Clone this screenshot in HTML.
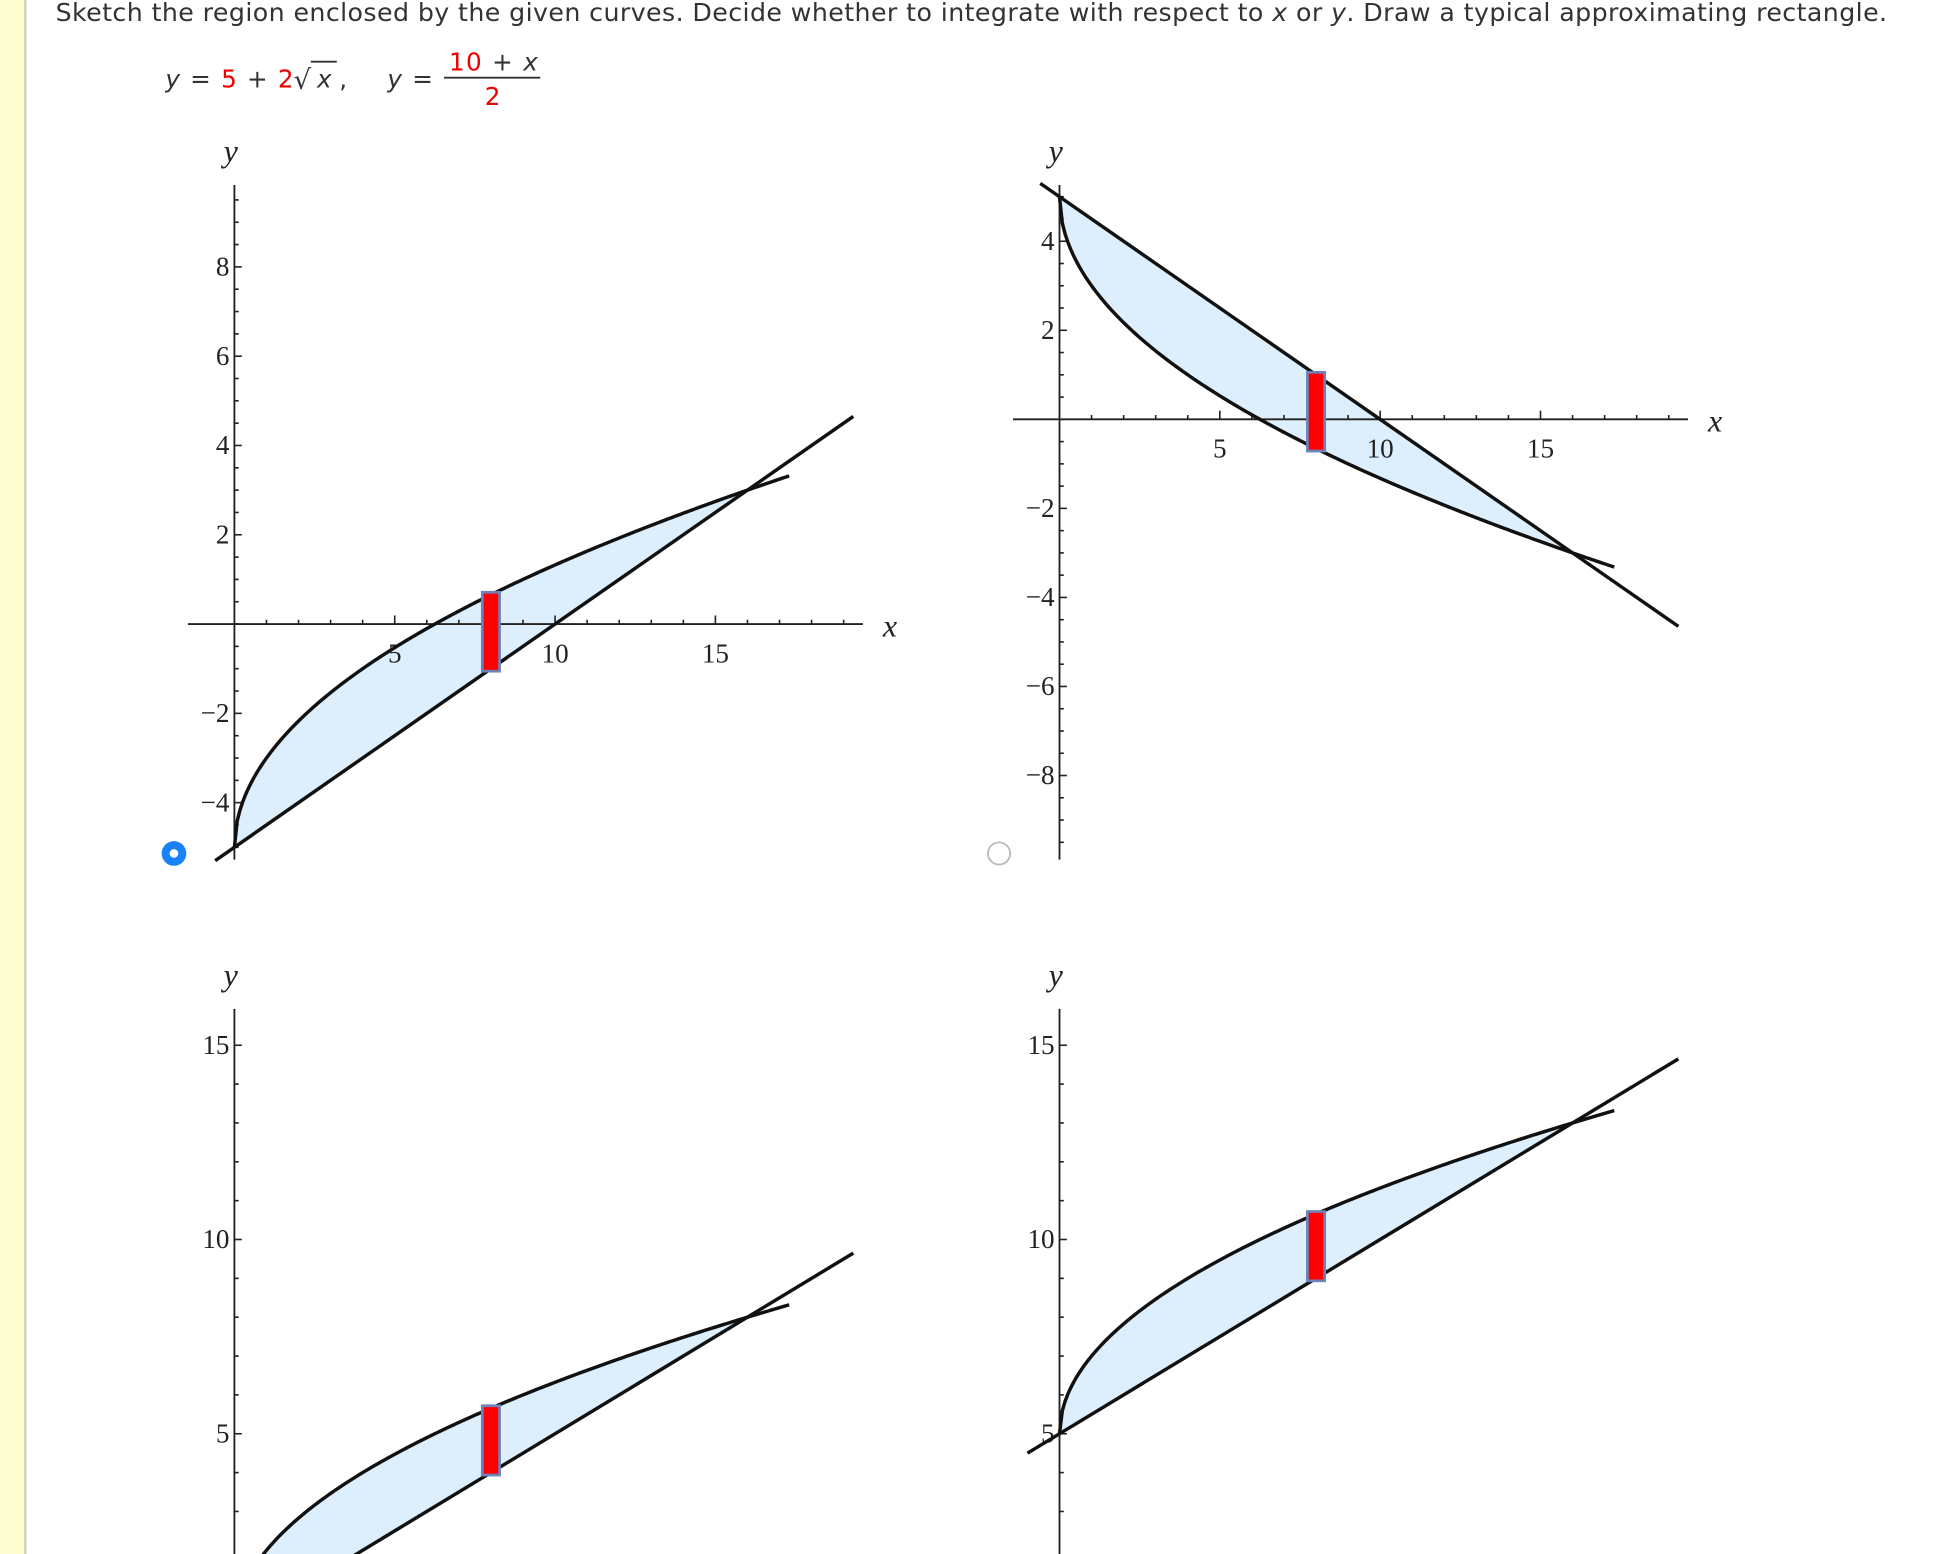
<!DOCTYPE html>
<html><head><meta charset="utf-8"><style>
html,body{margin:0;padding:0;background:#fff;overflow:hidden;width:1934px;height:1554px;}
svg{display:block;}
.t{font-family:"DejaVu Sans","Liberation Sans",sans-serif;}
.s{font-family:"Liberation Serif","DejaVu Serif",serif;}
</style></head><body>
<svg id="root" width="1934" height="1554" viewBox="0 0 1568 1260" xmlns="http://www.w3.org/2000/svg">
<defs><clipPath id="cp"><rect x="0" y="0" width="1568" height="1260"/></clipPath></defs>
<rect x="0" y="0" width="20" height="1260" fill="#fffdd0"/>
<line x1="20.5" y1="0" x2="20.5" y2="1260" stroke="#d0d0c0" stroke-width="2"/>
<text class="t" x="45" y="17" font-size="20.5" fill="#333" textLength="1485" lengthAdjust="spacing">Sketch the region enclosed by the given curves. Decide whether to integrate with respect to <tspan font-style="italic">x</tspan> or <tspan font-style="italic">y</tspan>. Draw a typical approximating rectangle.</text>
<g class="t" font-size="20" fill="#333">
<text x="134" y="71" textLength="104" lengthAdjust="spacing"><tspan font-style="italic">y</tspan> = <tspan fill="#e00">5</tspan> + <tspan fill="#e00">2</tspan></text>
<text x="238" y="72" font-size="22">√</text>
<line x1="252" y1="50" x2="273" y2="50" stroke="#333" stroke-width="1.5"/>
<text x="257" y="71" font-style="italic">x</text><text x="275" y="71">,</text>
<text x="314" y="71" textLength="37" lengthAdjust="spacing"><tspan font-style="italic">y</tspan> =</text>
<text x="364" y="57" fill="#e00" textLength="72" lengthAdjust="spacing">10 <tspan fill="#333">+</tspan> <tspan font-style="italic" fill="#333">x</tspan></text>
<line x1="360" y1="63" x2="438" y2="63" stroke="#333" stroke-width="1.5"/>
<text x="393" y="85" fill="#e00">2</text>
</g>
<g id="plots" clip-path="url(#cp)"></g>
<circle cx="141" cy="692" r="10" fill="#1a82f7"/>
<circle cx="141" cy="692" r="3.5" fill="#fff"/>
<circle cx="810" cy="692" r="9" fill="#fff" stroke="#bbb" stroke-width="1.5"/>
</svg>
<script>
const plotNames = ['plot-a','plot-b','plot-c','plot-d'];
const curveOffset = [-5, 5, 0, 5];
const curveSign   = [1, -1, 1, 1];
const lineOffset  = [-5, 5, 0, 5];
const lineSlope   = [0.5, -0.5, 0.5, 0.5];
const rectX = [8, 8, 8, 8];
const xTickLabels = [5, 10, 15];
const yTickLabelsA = [8, 6, 4, 2, -2, -4];
const yTickLabelsB = [4, 2, -2, -4, -6, -8];
const yTickLabelsC = [15, 10, 5];
const yTickLabelsD = [15, 10, 5];
const yLabelSets = [yTickLabelsA, yTickLabelsB, yTickLabelsC, yTickLabelsD];
const yRange = [[-5.2, 9.8], [-9.6, 5.0], [2.8, 16], [2.8, 16]];
const yMinorStep = [0.5, 0.5, 1, 1];
const xRangeAxis = [-1.45, 19.6];

const layout = [
  {ox:190, oy:506, sx:26, sy:36.2, xaxis:true, yTop:150, yBot:697},
  {ox:859, oy:340, sx:26, sy:36.1, xaxis:true, yTop:150, yBot:697},
  {ox:190, oy:1320, sx:26, sy:31.5, xaxis:false, yTop:818, yBot:1260},
  {ox:859, oy:1320, sx:26, sy:31.5, xaxis:false, yTop:818, yBot:1260}
];
const NS='http://www.w3.org/2000/svg';
const root=document.getElementById('plots');
function mk(tag, attrs, parent){const e=document.createElementNS(NS,tag);for(const k in attrs)e.setAttribute(k,attrs[k]);parent.appendChild(e);return e;}

for(let p=0;p<4;p++){
  const L=layout[p];
  const X=v=>L.ox+v*L.sx, Y=v=>L.oy-v*L.sy;
  const g=mk('g',{},root);
  
  
  const fc=x=>curveOffset[p]+curveSign[p]*2*Math.sqrt(Math.max(0,x));
  const fl=x=>lineOffset[p]+lineSlope[p]*x;
  let d='';
  for(let i=0;i<=160;i++){const x=16*i/160;d+=(i?'L':'M')+X(x).toFixed(2)+' '+Y(fc(x)).toFixed(2);}
  d+='L'+X(0)+' '+Y(fl(0))+'Z';
  const reg=mk('path',{d:d,fill:'#ddeefd',stroke:'none'},g);
  
  
  const ya=mk('line',{x1:L.ox,y1:L.yTop,x2:L.ox,y2:L.yBot,stroke:'#222','stroke-width':1.5},g);
  
  
  const [ymin,ymax]=yRange[p];
  const st=yMinorStep[p];
  for(let v=Math.ceil(ymin/st)*st; v<=ymax+1e-9; v+=st){
    const yy=Y(v); if(yy<L.yTop||yy>L.yBot) continue;
    const major=yLabelSets[p].indexOf(Math.round(v*100)/100)>=0;
    mk('line',{x1:L.ox,y1:yy,x2:L.ox+(major?6:3.5),y2:yy,stroke:'#222','stroke-width':1.3},g);
  }
  yLabelSets[p].forEach(v=>{
    const t=mk('text',{x:L.ox-4,y:Y(v)+7,'text-anchor':'end','font-size':22,fill:'#222',class:'s'},g);
    t.textContent=(v<0?'\u2212':'')+Math.abs(v);
    
    
  });
  const yl=mk('text',{x:L.ox-3,y:L.yTop-19,'text-anchor':'middle','font-size':26,'font-style':'italic',fill:'#222',class:'s'},g);
  yl.textContent='y';
  
  
  if(L.xaxis){
    const xa=mk('line',{x1:X(xRangeAxis[0]),y1:L.oy,x2:X(xRangeAxis[1]),y2:L.oy,stroke:'#222','stroke-width':1.5},g);
    
    
    for(let v=1;v<=19;v++){
      const major=xTickLabels.indexOf(v)>=0;
      mk('line',{x1:X(v),y1:L.oy,x2:X(v),y2:L.oy-(major?7:3.5),stroke:'#222','stroke-width':1.3},g);
    }
    xTickLabels.forEach(v=>{
      const t=mk('text',{x:X(v),y:L.oy+31,'text-anchor':'middle','font-size':22,fill:'#222',class:'s'},g);
      t.textContent=v;
      
      
    });
    const xl=mk('text',{x:X(xRangeAxis[1])+22,y:L.oy+10,'text-anchor':'middle','font-size':26,'font-style':'italic',fill:'#222',class:'s'},g);
    xl.textContent='x';
    
    
  }
  let dc='';
  for(let i=0;i<=200;i++){const x=17.3*i/200;dc+=(i?'L':'M')+X(x).toFixed(2)+' '+Y(fc(x)).toFixed(2);}
  const cv=mk('path',{d:dc,fill:'none',stroke:'#111','stroke-width':2.8},g);
  
  
  const x0=p<3?-0.6:-1.0, x1=19.3;
  const ln=mk('line',{x1:X(x0),y1:Y(fl(x0)),x2:X(x1),y2:Y(fl(x1)),stroke:'#111','stroke-width':2.8},g);
  
  
  const rx=rectX[p];
  const top=Math.max(fc(rx),fl(rx)), bot=Math.min(fc(rx),fl(rx));
  const r=mk('rect',{x:X(rx)-7,y:Y(top)-2,width:14,height:Y(bot)-Y(top)+4,fill:'#ff0000',stroke:'#6d82b8','stroke-width':2.2},g);
  
  
}
</script>
</body></html>
